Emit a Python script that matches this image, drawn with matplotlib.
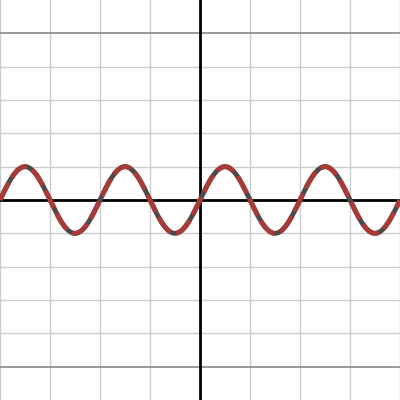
import numpy as np
import matplotlib
matplotlib.use("Agg")
import matplotlib.pyplot as plt

# axis window (x in units of pi-grid, y in units)
X_MIN, X_MAX = -4 * np.pi, 4 * np.pi
Y_MIN, Y_MAX = -6, 6
AMPLITUDE = 1.0
x_grid = np.arange(-4, 5) * np.pi
y_minor = [-4, -3, -2, -1, 1, 2, 3, 4]
y_major = [-5, 5]

x = np.linspace(X_MIN, X_MAX, 2000)
y = AMPLITUDE * np.sin(x)

fig = plt.figure(figsize=(4, 4), dpi=100)
ax = fig.add_axes([0, 0, 1, 1])
ax.set_xlim(X_MIN, X_MAX)
ax.set_ylim(Y_MIN, Y_MAX)
ax.axis("off")

for gx in x_grid:
    ax.axvline(gx, color="#cccccc", lw=1, zorder=0)
for gy in y_minor:
    ax.axhline(gy, color="#cccccc", lw=1, zorder=0)
for gy in y_major:
    ax.axhline(gy, color="#888888", lw=1.2, zorder=0)
ax.axhline(0, color="black", lw=2, zorder=1)
ax.axvline(0, color="black", lw=2, zorder=1)

ax.plot(x, y, color="#4a4a4a", lw=3.5, zorder=2, solid_capstyle="butt")
ax.plot(x, y, color="#a83a38", lw=3.5, zorder=3, dashes=(4, 1.2))

fig.savefig("out.png", dpi=100, facecolor="white")
